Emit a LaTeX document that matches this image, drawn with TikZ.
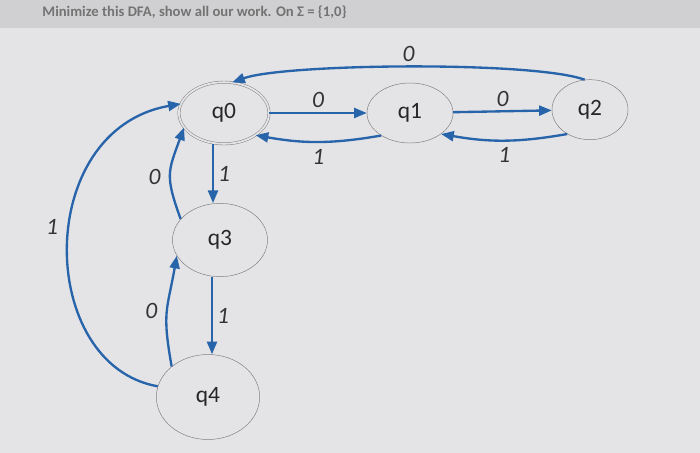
\documentclass[tikz,border=0pt]{standalone}
\usepackage{fontspec}
\setmainfont{Carlito}
\usetikzlibrary{shapes,arrows.meta}
\definecolor{edgeblue}{RGB}{40,100,170}
\definecolor{ringgray}{RGB}{125,125,128}
\definecolor{paper}{RGB}{228,228,231}
\definecolor{band}{RGB}{208,208,210}
\tikzstyle{st} = [ellipse, draw=ringgray, thin, inner sep=0pt, text=black!85, font=\fontsize{20}{22}\selectfont]
\tikzstyle{e} = [draw=edgeblue, line width=2pt, -{Triangle[length=3.8mm,width=3mm]}]
\tikzstyle{lbl} = [text=black!80, font=\fontsize{20}{22}\selectfont\itshape]

\begin{document}
\begin{tikzpicture}[node distance = 1.5cm]
		\useasboundingbox[fill=paper] (0,0) rectangle (21,-13.59);
		\fill[band] (0,0) rectangle (21,-0.85);
		\node[anchor=west, text=black!55, font=\fontsize{12.5}{13}\selectfont\bfseries] (title) at (1.15,-0.36) {Minimize this DFA, show all our work. On Σ = \{1,0\}};
		
		\node[st, double=paper, double distance=1.6pt, minimum width=2.7cm, minimum height=1.85cm] (q0) at (6.72,-3.39) {q0};
		\node[st, minimum width=2.58cm, minimum height=1.8cm, right of=q0, node distance=5.58cm] (q1) {q1};
		\node[st, minimum width=2.28cm, minimum height=1.8cm, right of=q1, node distance=5.4cm, yshift=0.1cm] (q2) {q2};
		\node[st, minimum width=2.85cm, minimum height=2.2cm, below of=q0, node distance=3.81cm, xshift=-0.12cm] (q3) {q3};
		\node[st, minimum width=3.1cm, minimum height=2.55cm, below of=q3, node distance=4.71cm, xshift=-0.36cm] (q4) {q4};
		
		\draw[e](q0)-- node[lbl, above]{0} (q1);
		\draw[e](q1)-- node[lbl, above]{0} (q2);
		\draw[e](q2.100) to[out=160, in=20, looseness=0.4] node[lbl, above]{0} (q0.75);
		\draw[e](q1.218) to[bend left=10] node[lbl, below=2pt]{1} (q0.325);
		\draw[e](q2.227) to[bend left=10] node[lbl, below=2pt]{1} (q1.326);
		\draw[e]([xshift=-0.33cm]q0.south)-- node[lbl, right]{1} ([xshift=-0.21cm]q3.north);
		\draw[e](q3.152) to[out=110, in=250, looseness=1.3] node[lbl, left=4pt, pos=0.45]{0} (q0.200);
		\draw[e]([xshift=-0.24cm]q3.south)-- node[lbl, right]{1} ([xshift=0.12cm]q4.north);
		\draw[e](q4.140) to[out=100, in=260, looseness=1.3] node[lbl, left=4pt]{0} (q3.200);
		\draw[e](q4.168) .. controls +(170:3.7) and +(190:4.5) .. node[lbl, left=6pt, pos=0.55]{1} (q0.168);
	\end{tikzpicture}
\end{document}
